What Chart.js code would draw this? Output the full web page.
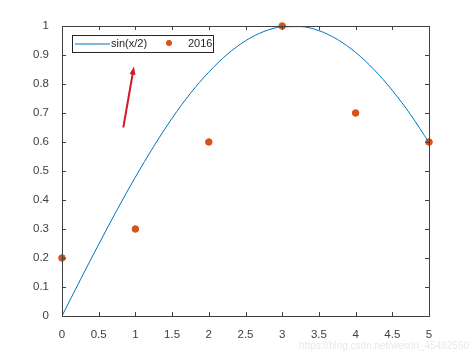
<!DOCTYPE html>
<html>
<head>
<meta charset="utf-8">
<script src="https://cdn.jsdelivr.net/npm/chart.js@4/dist/chart.umd.min.js"></script>
<style>
  html, body { margin: 0; padding: 0; background: #fff; }
  #wrap { width: 474px; height: 355px; position: relative; }
</style>
</head>
<body>
<div id="wrap"><canvas id="chart"></canvas></div>
<script>
// curve
const curveX = [0, 0.25, 0.5, 0.75, 1, 1.25, 1.5, 1.75, 2, 2.25, 2.5, 2.75, 3, 3.25, 3.5, 3.75, 4, 4.25, 4.5, 4.75, 5];
const curveY = [0, 0.125, 0.247, 0.366, 0.479, 0.585, 0.682, 0.768, 0.841, 0.902, 0.949, 0.981, 0.997, 0.998, 0.984, 0.954, 0.909, 0.850, 0.778, 0.694, 0.598];

// scatter points
const yearX = [0, 1, 2, 3, 4, 5];
const yearY = [0.2, 0.3, 0.6, 1.0, 0.7, 0.6];

const seriesNames = ["sin(x/2)", "2016"];

// arrow annotation: tail -> head in data units
const arrowFrom = [0.835, 0.65];
const arrowTo = [0.98, 0.86];

const blue = "#0072BD";
const orange = "#D95319";
const axisColor = "#404040";

const fmt = v => String(Number(v.toFixed(2)));

const boxPlugin = {
  id: "box",
  afterDatasetsDraw(chart){
    const ctx = chart.ctx;
    const a = chart.chartArea;
    const xs = chart.scales.x, ys = chart.scales.y;
    ctx.save();
    ctx.strokeStyle = axisColor;
    ctx.lineWidth = 1;
    ctx.strokeRect(Math.round(a.left) + 0.5, Math.round(a.top) + 0.5,
      Math.round(a.right - a.left), Math.round(a.bottom - a.top));
    ctx.beginPath();
    xs.ticks.forEach(t => {
      const px = Math.round(xs.getPixelForValue(t.value)) + 0.5;
      ctx.moveTo(px, a.bottom); ctx.lineTo(px, a.bottom - 4);
      ctx.moveTo(px, a.top); ctx.lineTo(px, a.top + 4);
    });
    ys.ticks.forEach(t => {
      const py = Math.round(ys.getPixelForValue(t.value)) + 0.5;
      ctx.moveTo(a.left, py); ctx.lineTo(a.left + 4, py);
      ctx.moveTo(a.right, py); ctx.lineTo(a.right - 4, py);
    });
    ctx.stroke();

    // arrow
    const x1 = xs.getPixelForValue(arrowFrom[0]), y1 = ys.getPixelForValue(arrowFrom[1]);
    const x2 = xs.getPixelForValue(arrowTo[0]), y2 = ys.getPixelForValue(arrowTo[1]);
    const ang = Math.atan2(y2 - y1, x2 - x1);
    ctx.strokeStyle = "#D7182A";
    ctx.fillStyle = "#D7182A";
    ctx.lineWidth = 2;
    ctx.beginPath();
    ctx.moveTo(x1, y1);
    ctx.lineTo(x2 - 6 * Math.cos(ang), y2 - 6 * Math.sin(ang));
    ctx.stroke();
    ctx.beginPath();
    ctx.moveTo(x2, y2);
    ctx.lineTo(x2 - 8 * Math.cos(ang) + 3 * Math.sin(ang), y2 - 8 * Math.sin(ang) - 3 * Math.cos(ang));
    ctx.lineTo(x2 - 8 * Math.cos(ang) - 3 * Math.sin(ang), y2 - 8 * Math.sin(ang) + 3 * Math.cos(ang));
    ctx.closePath();
    ctx.fill();

    // legend box
    const lx = a.left + 10, ly = a.top + 9, lw = 141, lh = 17;
    ctx.fillStyle = "#fff";
    ctx.fillRect(lx, ly, lw, lh);
    ctx.strokeStyle = "#262626";
    ctx.lineWidth = 1;
    ctx.strokeRect(Math.round(lx) + 0.5, Math.round(ly) + 0.5, lw, lh);
    const my = ly + lh / 2 + 0.5;
    ctx.strokeStyle = blue;
    ctx.beginPath();
    ctx.moveTo(lx + 3, my); ctx.lineTo(lx + 38, my);
    ctx.stroke();
    ctx.fillStyle = "#262626";
    ctx.font = "11px 'Liberation Sans', Arial, sans-serif";
    ctx.textBaseline = "middle";
    ctx.fillText(seriesNames[0], lx + 39, my);
    ctx.fillStyle = orange;
    ctx.beginPath();
    ctx.arc(lx + 97, my - 1, 3, 0, Math.PI * 2);
    ctx.fill();
    ctx.fillStyle = "#262626";
    ctx.fillText(seriesNames[1], lx + 116, my);

    // watermark
    ctx.fillStyle = "rgba(180,180,180,0.3)";
    ctx.font = "10px 'Liberation Sans', Arial, sans-serif";
    ctx.textAlign = "right";
    ctx.fillText("https://blog.csdn.net/weixin_45492560", 469, 346);
    ctx.restore();
  }
};

new Chart(document.getElementById("chart"), {
  type: "scatter",
  data: {
    datasets: [
      {
        label: seriesNames[0],
        data: curveX.map((x, i) => ({ x, y: curveY[i] })),
        showLine: true,
        borderColor: blue,
        borderWidth: 1,
        pointRadius: 0,
        cubicInterpolationMode: "monotone"
      },
      {
        label: seriesNames[1],
        data: yearX.map((x, i) => ({ x, y: yearY[i] })),
        backgroundColor: orange,
        borderColor: orange,
        pointRadius: 3.3,
        clip: false
      }
    ]
  },
  options: {
    responsive: true,
    maintainAspectRatio: false,
    animation: false,
    layout: { padding: { top: 26, right: 45, left: 0, bottom: 0 } },
    plugins: { legend: { display: false }, tooltip: { enabled: false } },
    scales: {
      x: {
        type: "linear", min: 0, max: 5,
        grid: { display: false },
        border: { display: false },
        ticks: { stepSize: 0.5, padding: 4, color: axisColor, callback: fmt,
          font: { family: "'Liberation Sans', Arial", size: 11.5 } },
        afterFit(s){ s.height = 39; }
      },
      y: {
        min: 0, max: 1,
        grid: { display: false },
        border: { display: false },
        ticks: { stepSize: 0.1, padding: 5, color: axisColor, callback: fmt,
          font: { family: "'Liberation Sans', Arial", size: 11.5 } },
        afterFit(s){ s.width = 62; }
      }
    }
  },
  plugins: [boxPlugin]
});
</script>
</body>
</html>
